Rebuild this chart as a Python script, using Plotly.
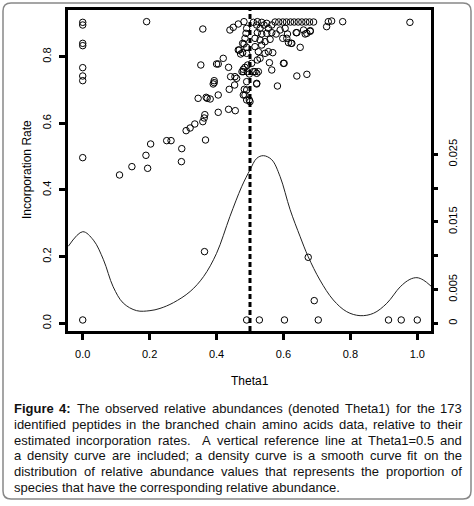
import plotly.graph_objects as go

# observed relative abundance (Theta1) vs estimated incorporation rate
theta1 = [
    0.0, 0.0, 0.0, 0.0, 0.0, 0.0, 0.0, 0.0, 0.0,
    0.978,
    0.49, 0.528, 0.603, 0.704, 0.914, 0.952, 1.0,
    0.692, 0.674, 0.364,
    0.11, 0.147, 0.194, 0.189, 0.203, 0.251, 0.264, 0.296, 0.295, 0.367,
    0.309, 0.321, 0.335, 0.359, 0.363, 0.365, 0.345, 0.369, 0.372, 0.381,
    0.405, 0.405, 0.393, 0.393, 0.353, 0.4, 0.405, 0.42, 0.436, 0.442,
    0.46, 0.454, 0.438, 0.436, 0.456, 0.191, 0.359, 0.44, 0.45, 0.465, 0.482,
    0.465, 0.472, 0.482, 0.49, 0.476, 0.485, 0.493, 0.505, 0.51, 0.498,
    0.52, 0.52, 0.483, 0.49, 0.48, 0.49, 0.50, 0.49, 0.488, 0.485,
    0.478, 0.468, 0.478, 0.49, 0.52, 0.53, 0.542, 0.555, 0.565, 0.522,
    0.535, 0.55, 0.565, 0.578, 0.59, 0.605, 0.612, 0.64, 0.66, 0.665,
    0.68, 0.515, 0.53, 0.545, 0.56, 0.598, 0.615, 0.625, 0.65, 0.515,
    0.535, 0.525, 0.545, 0.555, 0.568, 0.53, 0.522, 0.558, 0.565, 0.602,
    0.515, 0.525, 0.48, 0.64, 0.67, 0.582, 0.52, 0.49, 0.485, 0.498,
    0.51, 0.522, 0.535, 0.55,
    0.575, 0.586, 0.598, 0.609, 0.621, 0.632, 0.644, 0.655, 0.667, 0.678, 0.69,
    0.734, 0.744, 0.777, 0.729,
    0.39, 0.455, 0.48, 0.492, 0.6, 0.61, 0.623, 0.67, 0.68, 0.638,
]
incorporation = [
    0.903, 0.895, 0.84, 0.833, 0.767, 0.742, 0.728, 0.497, 0.01,
    0.903,
    0.01, 0.01, 0.01, 0.01, 0.01, 0.01, 0.01,
    0.068, 0.198, 0.215,
    0.445, 0.47, 0.465, 0.504, 0.538, 0.548, 0.548, 0.524, 0.485, 0.55,
    0.578, 0.586, 0.598, 0.605, 0.616, 0.626, 0.675, 0.678, 0.675, 0.673,
    0.633, 0.685, 0.722, 0.728, 0.775, 0.778, 0.778, 0.795, 0.768, 0.74,
    0.735, 0.715, 0.702, 0.642, 0.638, 0.905, 0.883, 0.88, 0.888, 0.898, 0.905,
    0.82, 0.808, 0.838, 0.81, 0.755, 0.768, 0.775, 0.78, 0.755, 0.748,
    0.75, 0.718, 0.702, 0.70, 0.685, 0.67, 0.665, 0.885, 0.87, 0.855,
    0.84, 0.82, 0.812, 0.828, 0.895, 0.885, 0.895, 0.885, 0.895, 0.872,
    0.868, 0.87, 0.872, 0.868, 0.88, 0.885, 0.868, 0.872, 0.88, 0.868,
    0.878, 0.855, 0.85, 0.845, 0.852, 0.855, 0.842, 0.84, 0.828, 0.83,
    0.835, 0.815, 0.81, 0.815, 0.812, 0.795, 0.79, 0.782, 0.76, 0.78,
    0.755, 0.755, 0.755, 0.742, 0.747, 0.712, 0.72, 0.725, 0.685, 0.67,
    0.903, 0.905, 0.903, 0.9,
    0.904, 0.904, 0.904, 0.904, 0.904, 0.904, 0.904, 0.904, 0.904, 0.904, 0.904,
    0.905, 0.907, 0.905, 0.89,
    0.718, 0.74, 0.762, 0.755, 0.78, 0.855, 0.84, 0.87, 0.876, 0.872,
]

# density curve of Theta1 (right axis)
dens_x = [-0.043, 0.0, 0.032, 0.062, 0.091, 0.121, 0.161, 0.201, 0.231, 0.271,
          0.321, 0.361, 0.40, 0.44, 0.475, 0.50, 0.52, 0.54, 0.565, 0.59,
          0.62, 0.65, 0.674, 0.709, 0.749, 0.789, 0.829, 0.869, 0.909, 0.949,
          0.978, 0.999, 1.018, 1.041]
dens_y = [0.0114, 0.01355, 0.0123, 0.0094, 0.0054, 0.0030, 0.00187, 0.00187, 0.0022, 0.00305,
          0.0047, 0.0069, 0.01035, 0.0158, 0.0202, 0.0227, 0.0244, 0.0248, 0.0242, 0.0217,
          0.0168, 0.0128, 0.00985, 0.0064, 0.00345, 0.00172, 0.00113, 0.00148, 0.00296, 0.0054,
          0.0065, 0.00675, 0.0064, 0.0055]

ref_theta = 0.5

x_ticks = [0, 0.2, 0.4, 0.6, 0.8, 1.0]
x_labels = ["0.0", "0.2", "0.4", "0.6", "0.8", "1.0"]
y_ticks = [0, 0.2, 0.4, 0.6, 0.8]
y_labels = ["0.0", "0.2", "0.4", "0.6", "0.8"]
dens_ticks = [0, 0.005, 0.01, 0.015, 0.02, 0.025]
dens_labels = ["0", "0.005", "", "0.015", "", "0.025"]

caption_lines = [
    "Figure 4: The observed relative abundances (denoted Theta1) for the 173",
    "identified peptides in the branched chain amino acids data, relative to their",
    "estimated incorporation rates.  A vertical reference line at Theta1=0.5 and",
    "a density curve are included; a density curve is a smooth curve fit on the",
    "distribution of relative abundance values that represents the proportion of",
    "species that have the corresponding relative abundance.",
]
bold_words = ["Figure", "4:"]

W, H = 474, 506
L, R, T, B = 68, 43, 10, 175
pw, ph = W - L - R, H - T - B


def px(x):
    return (x - L) / pw


def py(y):
    return (H - B - y) / ph


# Arial / Liberation Sans advance widths (per 1000 em), for justifying the caption
arial = dict(zip("abcdefghijklmnopqrstuvwxyz",
                 [556, 556, 500, 556, 556, 278, 556, 556, 222, 222, 500, 222, 833,
                  556, 556, 556, 556, 333, 500, 278, 556, 500, 722, 500, 500, 500]))
arial.update({"T": 611, "A": 667, "F": 611, "(": 333, ")": 333, ".": 278, ",": 278,
              ";": 278, ":": 278, "=": 584, "-": 333})
arial.update({d: 556 for d in "0123456789"})
arial_bold = {"F": 611, "i": 278, "g": 611, "u": 611, "r": 389, "e": 556, "4": 556, ":": 333}


def word_width(w, size, bold=False):
    table = arial_bold if bold else arial
    return sum(table.get(c, 556) for c in w) * size / 1000


font = "Liberation Sans, Arial, sans-serif"
cap_size = 13
cap_left, cap_right = 14, 462

fig = go.Figure()
fig.add_trace(go.Scatter(x=theta1, y=incorporation, mode="markers",
                         marker=dict(symbol="circle-open", size=6.5, color="black",
                                     line=dict(width=1, color="black")),
                         hoverinfo="skip", showlegend=False))
fig.add_trace(go.Scatter(x=dens_x, y=dens_y, yaxis="y2", mode="lines",
                         line=dict(color="#222", width=1, shape="spline"),
                         hoverinfo="skip", showlegend=False))

fig.add_shape(type="line", x0=ref_theta, x1=ref_theta, y0=0, y1=1,
              xref="x", yref="paper",
              line=dict(color="black", width=3, dash="5px,3px"))

# rounded frame around chart + caption
x0, y0, x1, y1, r = 3, 3, 471, 499, 8
path = (f"M {px(x0 + r)} {py(y0)} L {px(x1 - r)} {py(y0)} "
        f"Q {px(x1)} {py(y0)} {px(x1)} {py(y0 + r)} L {px(x1)} {py(y1 - r)} "
        f"Q {px(x1)} {py(y1)} {px(x1 - r)} {py(y1)} L {px(x0 + r)} {py(y1)} "
        f"Q {px(x0)} {py(y1)} {px(x0)} {py(y1 - r)} L {px(x0)} {py(y0 + r)} "
        f"Q {px(x0)} {py(y0)} {px(x0 + r)} {py(y0)} Z")
fig.add_shape(type="path", path=path, xref="paper", yref="paper",
              line=dict(color="#888", width=1.5), layer="below")

fig.add_annotation(text="Incorporation Rate", x=px(27), y=py(170), xref="paper", yref="paper",
                   xanchor="center", yanchor="middle",
                   showarrow=False, textangle=-90, font=dict(family=font, size=12, color="black"))
fig.add_annotation(text="Theta1", x=px(250), y=py(381), xref="paper", yref="paper",
                   xanchor="center", yanchor="middle",
                   showarrow=False, font=dict(family=font, size=12, color="black"))

# caption: justified lines, last line left aligned
for i, line in enumerate(caption_lines):
    yy = py(408.5 + 15.8 * i)
    words = line.split(" ")
    last = i == len(caption_lines) - 1
    bolds = [i == 0 and w in bold_words for w in words]
    widths = [word_width(w, cap_size, b) for w, b in zip(words, bolds)]
    if last:
        gap = arial[","] * cap_size / 1000
    else:
        gap = (cap_right - cap_left - sum(widths)) / (len(words) - 1)
    xx = cap_left
    for w, b, wd in zip(words, bolds, widths):
        if w:
            fig.add_annotation(text=f"<b>{w}</b>" if b else w, x=px(xx), y=yy,
                               xref="paper", yref="paper", xanchor="left", yanchor="middle",
                               showarrow=False, borderpad=0, borderwidth=0,
                               font=dict(family=font, size=cap_size, color="#111"))
        xx += wd + gap

axis_common = dict(showgrid=False, zeroline=False, ticks="outside", ticklen=6, tickwidth=2.5,
                   tickcolor="black", tickfont=dict(family=font, size=11, color="black"))

fig.update_layout(
    width=W, height=H, autosize=False,
    margin=dict(l=L, r=R, t=T, b=B),
    paper_bgcolor="white", plot_bgcolor="white",
    xaxis=dict(range=[-0.044, 1.041], tickvals=x_ticks, ticktext=x_labels,
               showline=True, mirror=True, linecolor="black", linewidth=2.5,
               ticklabelstandoff=5, automargin=False, **axis_common),
    yaxis=dict(range=[-0.0231, 0.94], tickvals=y_ticks, ticktext=y_labels,
               showline=True, mirror=True, linecolor="black", linewidth=2.5,
               tickangle=-90, ticklabelstandoff=4, automargin=False, **axis_common),
    yaxis2=dict(range=[-0.00114, 0.04635], overlaying="y", side="right",
                tickvals=dens_ticks, ticktext=dens_labels, showline=False,
                tickangle=-90, ticklabelstandoff=6, automargin=False, **axis_common),
)

fig.write_html("out.html", config={"displayModeBar": False},
               post_script="document.body.style.margin='0';")
